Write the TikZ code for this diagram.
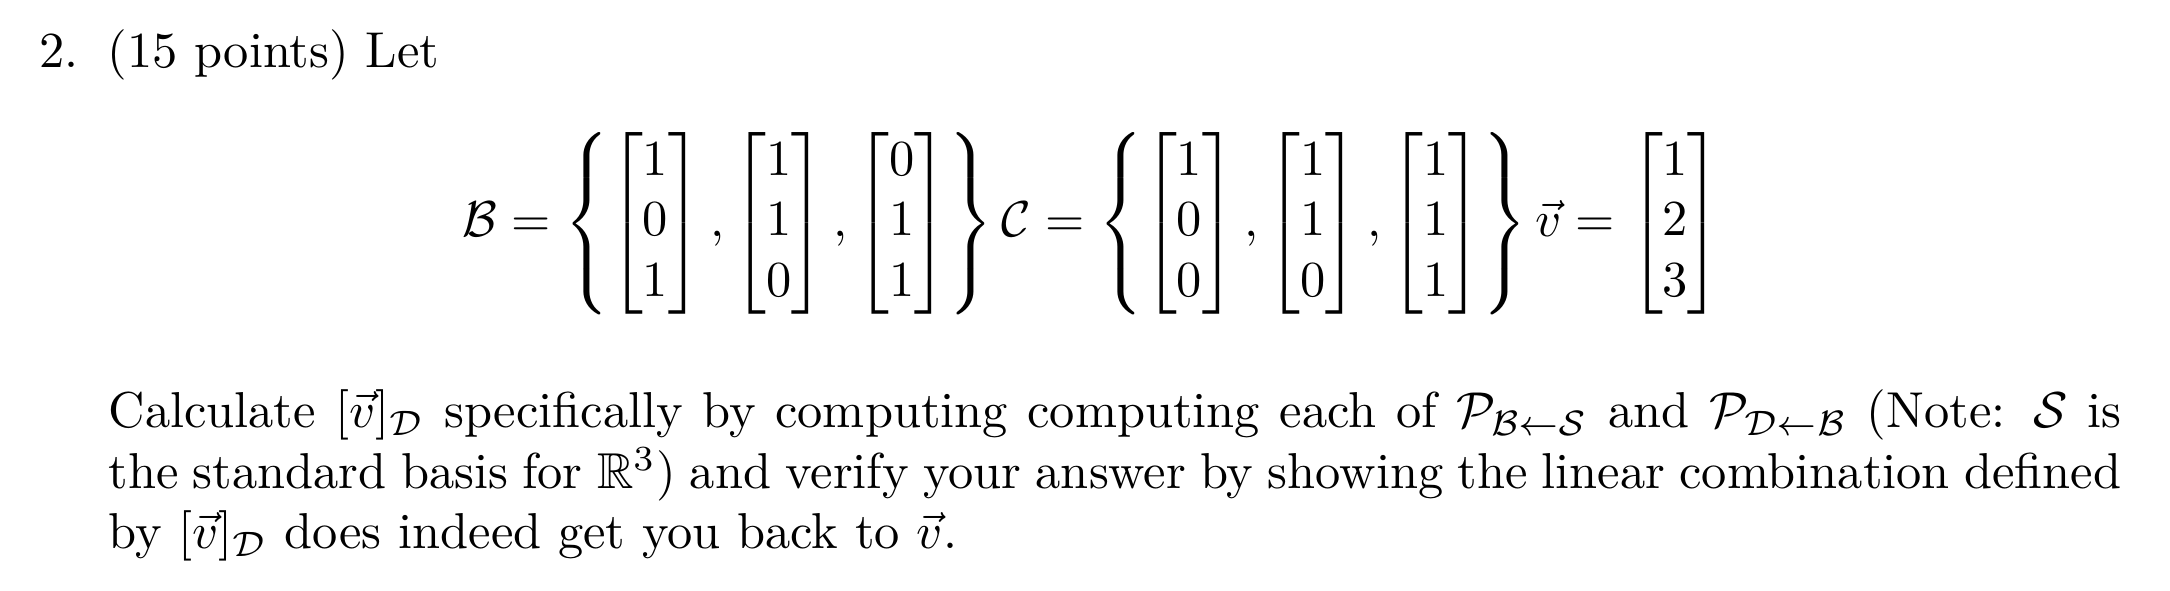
\documentclass[tikz,border=0pt]{standalone}
\usepackage{amsmath,amssymb}
\begin{document}
\begin{tikzpicture}[x=1pt,y=1pt]
\useasboundingbox (0,0) rectangle (417.3,-113.5);
\tikzset{txt/.style={inner sep=0,scale=0.97,transform shape}}
\node[txt,anchor=base west] (num) at (7.4,-13.0) {2.};
\node[txt,anchor=base west] (head) at (20.5,-13.0) {(15 points) Let};
\node[txt] (eq) at (210,-43) {$\mathcal{B}=\left\{\begin{bmatrix}1\\0\\1\end{bmatrix},\begin{bmatrix}1\\1\\0\end{bmatrix},\begin{bmatrix}0\\1\\1\end{bmatrix}\right\}\mathcal{C}=\left\{\begin{bmatrix}1\\0\\0\end{bmatrix},\begin{bmatrix}1\\1\\0\end{bmatrix},\begin{bmatrix}1\\1\\1\end{bmatrix}\right\}\vec{v}=\begin{bmatrix}1\\2\\3\end{bmatrix}$};
\node[txt,anchor=north west,text width=399pt,align=justify] (par) at (20.7,-74.8) {Calculate $[\vec{v}]_{\mathcal{D}}$ specifically by computing computing each of $\mathcal{P}_{\mathcal{B}\leftarrow\mathcal{S}}$ and $\mathcal{P}_{\mathcal{D}\leftarrow\mathcal{B}}$ (Note: $\mathcal{S}$ is the standard basis for $\mathbb{R}^3$) and verify your answer by showing the linear combination defined by $[\vec{v}]_{\mathcal{D}}$ does indeed get you back to $\vec{v}$.};
\end{tikzpicture}
\end{document}
